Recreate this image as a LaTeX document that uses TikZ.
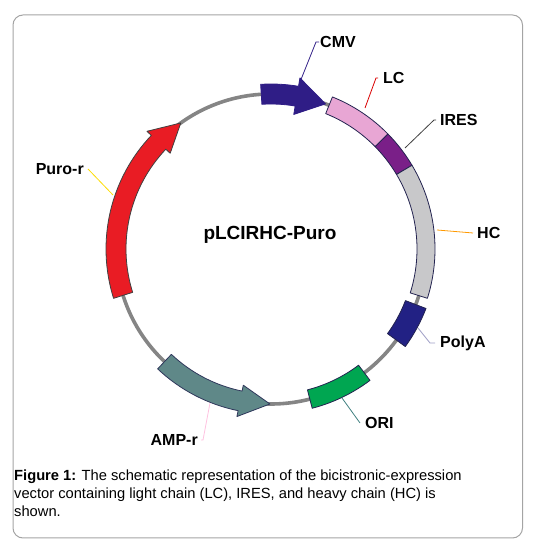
\documentclass[tikz,border=0pt]{standalone}
\usepackage{fontspec}
\setmainfont{Liberation Sans}
\usetikzlibrary{positioning}
\definecolor{ringgray}{HTML}{858585}
\definecolor{edge}{HTML}{232350}
\definecolor{cmvblue}{HTML}{2F1D86}
\definecolor{lcpink}{HTML}{E8A6D4}
\definecolor{irespurple}{HTML}{7A1F88}
\definecolor{hcgray}{HTML}{C8C8CA}
\definecolor{polyblue}{HTML}{222184}
\definecolor{origreen}{HTML}{00A651}
\definecolor{ampteal}{HTML}{5F8888}
\definecolor{purored}{HTML}{E91C24}
\definecolor{framegray}{HTML}{A4A4A4}
% band on the ring: start angle, end angle, half width, style
\newcommand{\ringband}[4]{%
  \draw[#4] (#1:155+#3) arc[start angle=#1, end angle=#2, radius=155+#3]
    -- (#2:155-#3) arc[start angle=#2, end angle=#1, radius=155-#3] -- cycle;}
% arrow on the ring: tail, head base, tip, body half width, head half width, style
\newcommand{\ringarrow}[6]{%
  \draw[#6] (#1:155+#4) arc[start angle=#1, end angle=#2, radius=155+#4]
    -- (#2:155+#5) -- (#3:155) -- (#2:155-#5) -- (#2:155-#4)
    arc[start angle=#2, end angle=#1, radius=155-#4] -- cycle;}

\begin{document}
\begin{tikzpicture}[x=1pt, y=1pt,
    part/.style={draw=edge, line width=0.8pt, line join=round},
    leader/.style={line width=0.8pt},
    tag/.style={font=\fontsize{16}{19}\selectfont\bfseries, inner sep=0pt}]
  \useasboundingbox (0,0) rectangle (539,553);
  % Rahmen
  \draw[framegray, line width=1pt, rounded corners=10pt] (13,15) rectangle (522.5,538);
  % Plasmidring mit Elementen
  \begin{scope}[shift={(271,304)}]
    \draw[ringgray, line width=3.6pt] (0,0) circle[radius=155];
    \ringarrow{93.6}{80.4}{69.4}{10}{18.5}{part, draw=cmvblue, fill=cmvblue}
    \ringband{68}{44.5}{9}{part, fill=lcpink}
    \ringband{44.5}{30.7}{9}{part, fill=irespurple}
    \ringband{30.7}{-17.5}{9}{part, fill=hcgray}
    \ringband{-21}{-36}{11}{part, fill=polyblue}
    \ringband{-53}{-75.5}{9.5}{part, fill=origreen}
    \ringarrow{-133.4}{-101.5}{-90.4}{10}{16}{part, draw=edge!80!ampteal, fill=ampteal}
    \ringarrow{197.4}{136.5}{125.6}{10}{16}{part, draw=black!75, fill=purored}
  \end{scope}
  \node[font=\fontsize{19}{22}\selectfont\bfseries] (name) at (270,318) {pLCIRHC-Puro};
  % Beschriftungen
  \node[tag, anchor=west] (cmv) at (320,511) {CMV};
  \node[tag, anchor=west] (lc) at (383,475) {LC};
  \node[tag, anchor=west] (ires) at (440,433) {IRES};
  \node[tag, anchor=west] (hc) at (477,320) {HC};
  \node[tag, anchor=west] (polya) at (440,210) {PolyA};
  \node[tag, anchor=west] (ori) at (365,130) {ORI};
  \node[tag, anchor=east] (amp) at (198,113) {AMP-r};
  \node[tag, anchor=east] (puro) at (84,384) {Puro-r};
  \coordinate (cmvpt) at (300,471);
  \coordinate (lcpt) at (365,445);
  \coordinate (irespt) at (405,405);
  \coordinate (hcpt) at (437,323);
  \coordinate (polypt) at (418,225);
  \coordinate (oript) at (342,155);
  \coordinate (amppt) at (210,150);
  \coordinate (puropt) at (113,358);
  \draw[leader, cmvblue] (cmvpt) -- ([xshift=-4pt]cmv.west) -- ++(3pt,0);
  \draw[leader, red!85!black] (lcpt) -- ([xshift=-7pt]lc.west) -- ++(2pt,0);
  \draw[leader, black!75] (irespt) -- ([xshift=-6pt]ires.west) -- ++(2pt,0);
  \draw[leader, orange!80!yellow] (hcpt) -- ([xshift=-4pt]hc.west);
  \draw[leader, blue!25!gray!60] (polypt) -- ([xshift=-10pt]polya.west) -- ++(5pt,0);
  \draw[leader, teal!50!gray] (oript) -- ([xshift=-5pt]ori.west);
  \draw[leader, pink!80!magenta!60] (amppt) -- ([xshift=5pt]amp.east) -- ++(-2pt,0);
  \draw[leader, yellow!80!orange] (puropt) -- ([xshift=4pt]puro.east);
  % Legende
  \node[anchor=base west, align=left, inner sep=0pt,
    font=\fontsize{14.7}{18.3}\selectfont] (caption) at (14,36.3)
    {\textbf{Figure 1:} The schematic representation of the bicistronic-expression\\
     vector containing light chain (LC), IRES, and heavy chain (HC) is\\
     shown.};
\end{tikzpicture}
\end{document}
